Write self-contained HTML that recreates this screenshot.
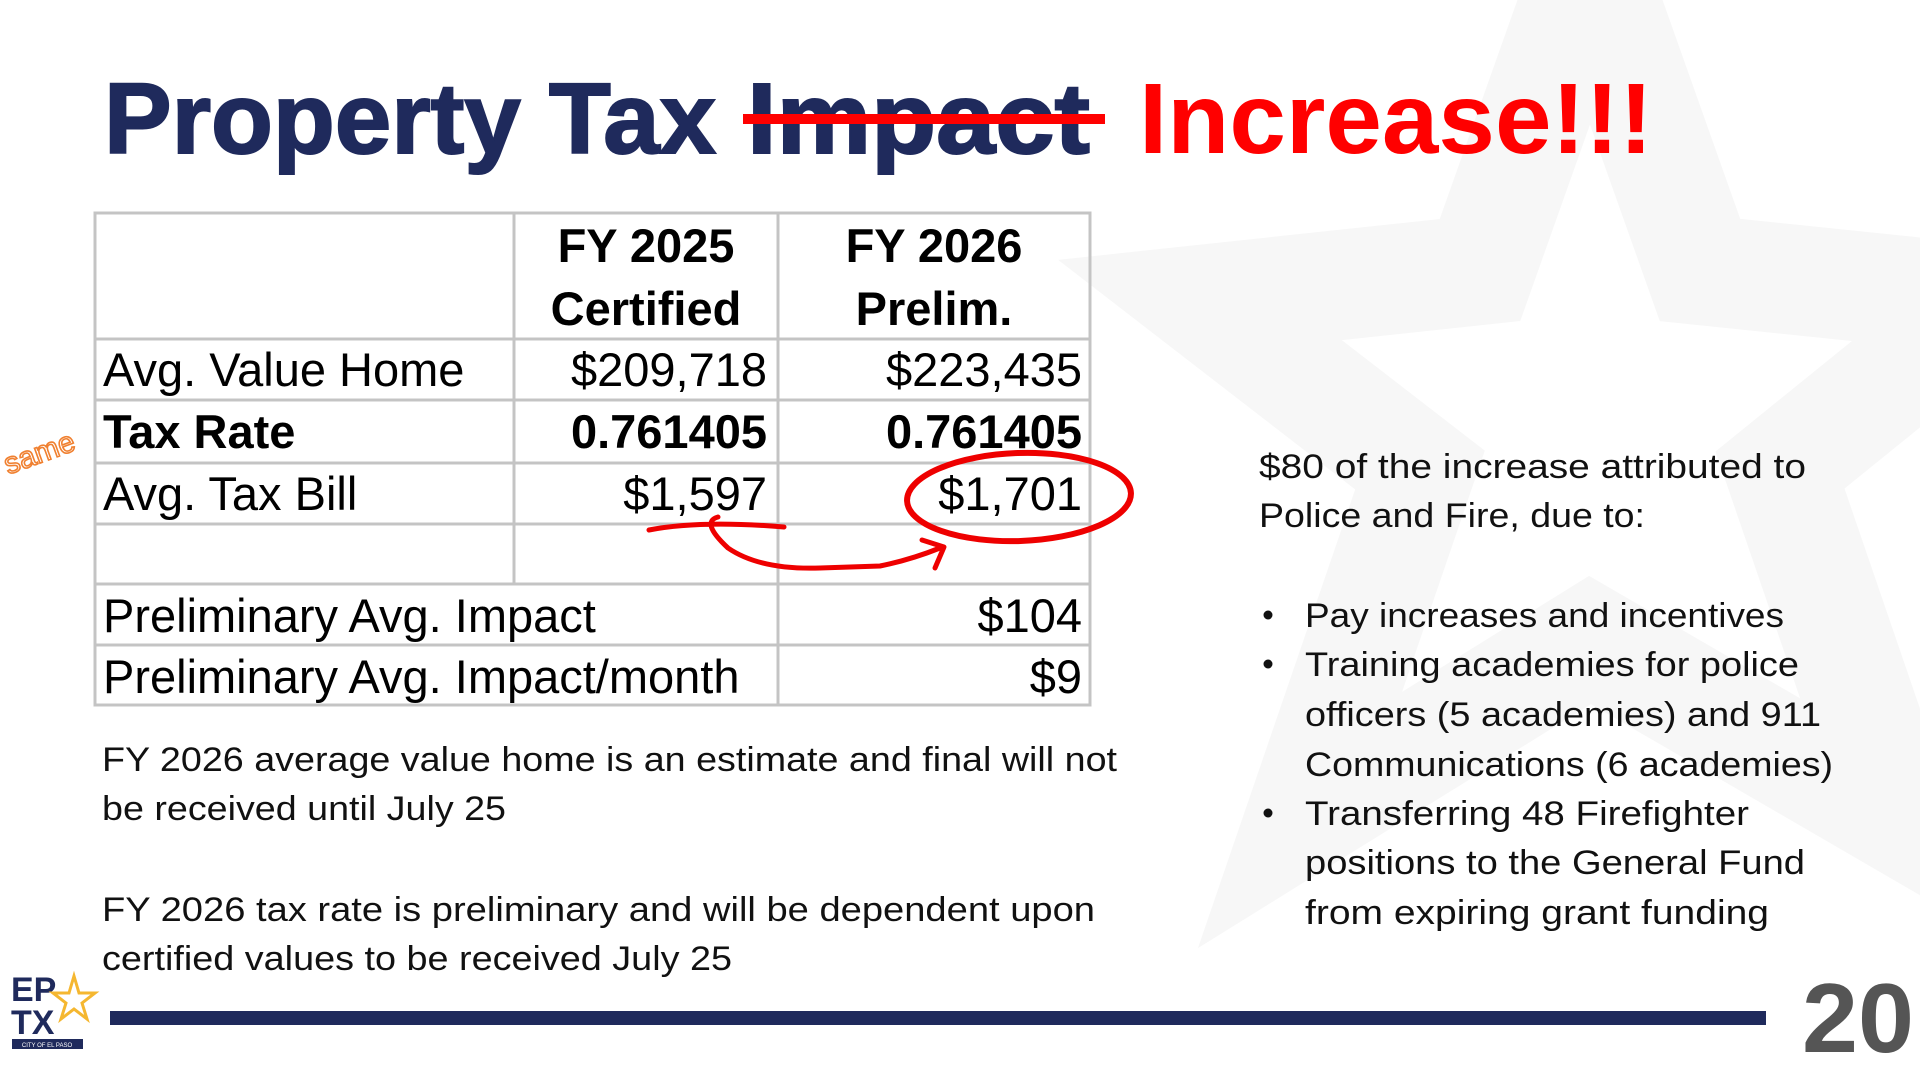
<!DOCTYPE html>
<html><head><meta charset="utf-8"><style>
html,body{margin:0;padding:0;background:#fff;}
svg{display:block}
</style></head><body>
<svg width="1920" height="1080" viewBox="0 0 1920 1080" xmlns="http://www.w3.org/2000/svg" font-family="Liberation Sans, sans-serif">
<rect width="1920" height="1080" fill="#fff"/>
<!-- background star -->
<polygon points="1590,-40 1700,270 1990,300 1780,470 1900,820 1590,640 1300,820 1420,470 1200,300 1480,270" fill="none" stroke="#f7f7f7" stroke-width="110" stroke-linejoin="miter"/>
<!-- title -->
<text x="104" y="153" font-size="100" font-weight="bold" fill="#1f2a5c" stroke="#1f2a5c" stroke-width="2" textLength="612" lengthAdjust="spacingAndGlyphs">Property Tax</text>
<text x="747" y="153" font-size="100" font-weight="bold" fill="#1f2a5c" stroke="#1f2a5c" stroke-width="2" textLength="343" lengthAdjust="spacingAndGlyphs">Impact</text>
<line x1="743" y1="119" x2="1105" y2="119" stroke="#ff0000" stroke-width="10"/>
<text x="1139" y="153" font-size="100" font-weight="bold" fill="#ff0000" textLength="514" lengthAdjust="spacingAndGlyphs">Increase!!!</text>
<!-- table -->
<g fill="none" stroke="#c4c4c4" stroke-width="3">
<rect x="95" y="213" width="995" height="492"/>
<line x1="95" y1="339" x2="1090" y2="339"/>
<line x1="95" y1="400" x2="1090" y2="400"/>
<line x1="95" y1="463" x2="1090" y2="463"/>
<line x1="95" y1="524" x2="1090" y2="524"/>
<line x1="95" y1="584" x2="1090" y2="584"/>
<line x1="95" y1="645" x2="1090" y2="645"/>
<line x1="514" y1="213" x2="514" y2="584"/>
<line x1="778" y1="213" x2="778" y2="705"/>
</g>
<g font-size="47" fill="#000">
<text x="646" y="262" font-weight="bold" text-anchor="middle">FY 2025</text>
<text x="646" y="325" font-weight="bold" text-anchor="middle">Certified</text>
<text x="934" y="262" font-weight="bold" text-anchor="middle">FY 2026</text>
<text x="934" y="325" font-weight="bold" text-anchor="middle">Prelim.</text>
<text x="103" y="386">Avg. Value Home</text>
<text x="767" y="386" text-anchor="end">$209,718</text>
<text x="1082" y="386" text-anchor="end">$223,435</text>
<text x="103" y="448" font-weight="bold">Tax Rate</text>
<text x="767" y="448" text-anchor="end" font-weight="bold">0.761405</text>
<text x="1082" y="448" text-anchor="end" font-weight="bold">0.761405</text>
<text x="103" y="510">Avg. Tax Bill</text>
<text x="767" y="510" text-anchor="end">$1,597</text>
<text x="1082" y="510" text-anchor="end">$1,701</text>
<text x="103" y="632">Preliminary Avg. Impact</text>
<text x="1082" y="632" text-anchor="end">$104</text>
<text x="103" y="693">Preliminary Avg. Impact/month</text>
<text x="1082" y="693" text-anchor="end">$9</text>
</g>
<!-- same -->
<text x="0" y="462" font-size="30" fill="none" stroke="#f08030" stroke-width="1.6" transform="rotate(-20 40 445)">same</text>
<!-- red annotations -->
<ellipse cx="1019" cy="497" rx="112" ry="44" fill="none" stroke="#ee0000" stroke-width="6" transform="rotate(-2 1019 497)"/>
<path d="M649,530 Q700,520 784,527 M718,517 Q700,522 728,548 Q760,570 820,568 L880,566 Q910,560 940,548" fill="none" stroke="#ee0000" stroke-width="5" stroke-linecap="round"/>
<path d="M922,540 L944,547 L935,568" fill="none" stroke="#ee0000" stroke-width="5" stroke-linecap="round" stroke-linejoin="round"/>
<!-- footnotes -->
<g font-size="34" fill="#111">
<text x="102" y="771" textLength="1015" lengthAdjust="spacingAndGlyphs">FY 2026 average value home is an estimate and final will not</text>
<text x="102" y="820" textLength="404" lengthAdjust="spacingAndGlyphs">be received until July 25</text>
<text x="102" y="921" textLength="993" lengthAdjust="spacingAndGlyphs">FY 2026 tax rate is preliminary and will be dependent upon</text>
<text x="102" y="970" textLength="630" lengthAdjust="spacingAndGlyphs">certified values to be received July 25</text>
<text x="1259" y="478" textLength="547" lengthAdjust="spacingAndGlyphs">$80 of the increase attributed to</text>
<text x="1259" y="527" textLength="386" lengthAdjust="spacingAndGlyphs">Police and Fire, due to:</text>
<circle cx="1268" cy="615" r="4.5"/>
<circle cx="1268" cy="664" r="4.5"/>
<circle cx="1268" cy="813" r="4.5"/>
<text x="1305" y="627" textLength="479" lengthAdjust="spacingAndGlyphs">Pay increases and incentives</text>
<text x="1305" y="676" textLength="494" lengthAdjust="spacingAndGlyphs">Training academies for police</text>
<text x="1305" y="726" textLength="516" lengthAdjust="spacingAndGlyphs">officers (5 academies) and 911</text>
<text x="1305" y="776" textLength="528" lengthAdjust="spacingAndGlyphs">Communications (6 academies)</text>
<text x="1305" y="825" textLength="444" lengthAdjust="spacingAndGlyphs">Transferring 48 Firefighter</text>
<text x="1305" y="874" textLength="500" lengthAdjust="spacingAndGlyphs">positions to the General Fund</text>
<text x="1305" y="924" textLength="464" lengthAdjust="spacingAndGlyphs">from expiring grant funding</text>
</g>
<!-- footer -->
<rect x="110" y="1011" width="1656" height="14" fill="#1f2a5c"/>
<text x="1802" y="1052" font-size="98" font-weight="bold" fill="#555" textLength="112" lengthAdjust="spacingAndGlyphs">20</text>
<!-- logo -->
<text x="11" y="1001" font-size="34" font-weight="bold" fill="#1f2a5c">EP</text>
<text x="11" y="1034" font-size="34" font-weight="bold" fill="#1f2a5c">TX</text>
<polygon points="74,976 79,993 95,993 82,1003 87,1019 74,1009 61,1019 66,1003 53,993 69,993" fill="none" stroke="#f5b730" stroke-width="3"/>
<rect x="12" y="1039" width="71" height="10" fill="#1f2a5c"/>
<text x="47" y="1047" font-size="6" fill="#fff" text-anchor="middle">CITY OF EL PASO</text>
</svg>
</body></html>
